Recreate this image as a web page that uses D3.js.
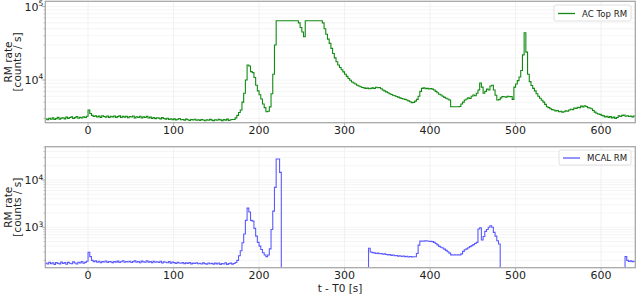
<!DOCTYPE html>
<html>
<head>
<meta charset="utf-8">
<script src="https://cdn.jsdelivr.net/npm/d3@7"></script>
<style>
  body { margin: 0; background: #fff; }
  svg { display: block; font-family: "DejaVu Sans", sans-serif; }
</style>
</head>
<body>
<svg width="637" height="294"></svg>
<script>
const width = 637;
const height = 294;

// time grid: 2 s bins from -50 s
const tStart = -50;
const tStep = 2;

// AC Top RM rate (counts/s), one value per 2 s bin
const acTopRate = [
  2950, 2880, 3010, 2920, 3050, 2900, 2980, 3100, 2930, 3020,
  3060, 2950, 3120, 3000, 3080, 3150, 2990, 3070, 3180, 3010,
  3100, 3040, 3160, 3080, 3200, 3900, 3500, 3300, 3180, 3250,
  3150, 3220, 3100, 3260, 3180, 3120, 3240, 3090, 3200, 3150,
  3230, 3100, 3170, 3250, 3080, 3190, 3120, 3210, 3060, 3180,
  3130, 3240, 3050, 3160, 3090, 3200, 3030, 3150, 3080, 3190,
  3040, 3120, 3000, 3090, 2980, 3060, 3020, 2950, 3070, 2990,
  2930, 3010, 2900, 2970, 2880, 2950, 2860, 2920, 2990, 2870,
  2900, 2840, 2930, 2870, 2810, 2890, 2850, 2920, 2830, 2880,
  2820, 2900, 2850, 2790, 2880, 2830, 2910, 2840, 2800, 2870,
  2830, 2920, 2860, 2800, 2890, 2840, 2930, 2810, 2870, 2900,
  2900, 3050, 3300, 3600, 3900, 5000, 6600, 10000, 16000, 15500,
  13000, 12600, 10800, 8500, 7100, 6300, 5500, 4700, 4200, 3700,
  3750, 4300, 6500, 12000, 30000, 64000, 64000, 64000, 64000, 64000,
  64000, 64000, 64000, 64000, 64000, 64000, 64000, 64000, 60000, 52000,
  45000, 38800, 64000, 64000, 64000, 64000, 64000, 64000, 64000, 64000,
  64000, 64000, 60000, 50000, 42000, 36000, 31500, 27000, 23000, 20000,
  17700, 16000, 14800, 13800, 12900, 12000, 11200, 10500, 9900, 9400,
  9100, 8800, 8500, 8300, 8100, 7900, 7800, 7700, 7750, 7600,
  7700, 7800, 7650, 7950, 7850, 7900, 7600, 7300, 7100, 6900,
  6700, 6500, 6350, 6200, 6100, 5950, 5850, 5700, 5600, 5500,
  5450, 5350, 5200, 5050, 4920, 4950, 5150, 5450, 6000, 7000,
  7700, 7800, 7600, 7700, 7550, 7650, 7500, 7300, 7000, 6700,
  6400, 6250, 6000, 5800, 5650, 5500, 5350, 4330, 4330, 4330,
  4330, 4330, 4350, 4700, 5000, 5350, 5500, 5700, 5600, 6000,
  6250, 6100, 6600, 7300, 9100, 8000, 6600, 7000, 7500, 7300,
  8300, 8500, 7300, 6200, 5350, 5400, 5700, 5950, 5900, 5850,
  6000, 5900, 5950, 5440, 8000, 8800, 9800, 11000, 13500, 22000,
  44000, 24000, 12000, 9500, 8400, 7700, 7100, 6500, 6000, 5640,
  5300, 5000, 4650, 4330, 4200, 4050, 3950, 3900, 3800, 3850,
  3700, 3750, 3650, 3700, 3800, 3750, 3900, 4000, 3950, 4150,
  4100, 4250, 4200, 4400, 4300, 4450, 4350, 4200, 4150, 4050,
  3850, 3650, 3520, 3450, 3400, 3300, 3250, 3150, 3200, 3100,
  3170, 3050, 3120, 3000, 3080, 3250, 3180, 3300, 3340, 3200,
  3260, 3180, 3240, 3150, 3240
];

// MCAL RM rate (counts/s), 0 = no data
const mcalRate = [
  175, 168, 182, 171, 178, 165, 180, 173, 169, 184,
  172, 179, 166, 181, 174, 170, 186, 176, 168, 183,
  177, 189, 174, 181, 192, 296, 240, 200, 188, 195,
  183, 191, 178, 188, 185, 194, 180, 190, 186, 179,
  189, 184, 193, 181, 187, 196, 182, 190, 185, 192,
  180, 188, 195, 183, 190, 178, 193, 186, 182, 197,
  184, 189, 179, 192, 183, 187, 180, 191, 176, 186,
  182, 178, 188, 175, 184, 179, 172, 181, 176, 174,
  179, 171, 177, 173, 180, 169, 175, 172, 178, 170,
  174, 168, 177, 171, 166, 176, 170, 173, 167, 175,
  169, 176, 165, 172, 168, 178, 164, 171, 175, 167,
  172, 180, 200, 250, 320, 470, 720, 1400, 2550, 2100,
  1400, 1350, 950, 650, 480, 400, 340, 290, 260, 240,
  260, 350, 900, 2200, 7000, 27800, 27800, 14500, 0, 0,
  0, 0, 0, 0, 0, 0, 0, 0, 0, 0,
  0, 0, 0, 0, 0, 0, 0, 0, 0, 0,
  0, 0, 0, 0, 0, 0, 0, 0, 0, 0,
  0, 0, 0, 0, 0, 0, 0, 0, 0, 0,
  0, 0, 0, 0, 0, 0, 0, 0, 0, 360,
  300, 292, 288, 280, 284, 276, 279, 270, 274, 266,
  262, 266, 255, 259, 250, 254, 246, 250, 242, 247,
  240, 244, 236, 241, 237, 239, 238, 280, 420, 510,
  515, 510, 520, 512, 508, 505, 498, 480, 455, 425,
  396, 380, 365, 345, 325, 305, 285, 262, 260, 261,
  259, 261, 260, 275, 310, 335, 350, 370, 390, 410,
  430, 455, 480, 920, 980, 540, 640, 820, 900, 1000,
  1080, 1000, 780, 650, 520, 445, 0, 0, 0, 0,
  0, 0, 0, 0, 0, 0, 0, 0, 0, 0,
  0, 0, 0, 0, 0, 0, 0, 0, 0, 0,
  0, 0, 0, 0, 0, 0, 0, 0, 0, 0,
  0, 0, 0, 0, 0, 0, 0, 0, 0, 0,
  0, 0, 0, 0, 0, 0, 0, 0, 0, 0,
  0, 0, 0, 0, 0, 0, 0, 0, 0, 0,
  0, 0, 0, 0, 0, 0, 0, 0, 0, 240,
  200, 190, 195, 188, 192
];

const xTicks = [0, 100, 200, 300, 400, 500, 600];
const xDomain = [-50, 640];

const panels = [
  { name: "AC Top RM", rate: acTopRate, color: "#118a11", top: 1.3, bottom: 122.7,
    domain: [2620, 118000], decades: [4, 5], legend: { x: 554, y: 5, w: 77, h: 16 } },
  { name: "MCAL RM", rate: mcalRate, color: "#5a5aff", top: 146.7, bottom: 267.7,
    domain: [140, 50600], decades: [3, 4], legend: { x: 559, y: 150, w: 72, h: 15 } }
];

const left = 45.3, right = 635.3;
const x = d3.scaleLinear().domain(xDomain).range([left, right]);

const svg = d3.select("svg");

panels.forEach((p, i) => {
  const y = d3.scaleLog().domain(p.domain).range([p.bottom, p.top]);
  const g = svg.append("g");

  // grid (major + minor)
  const minor = [];
  for (let e = 1; e <= 5; e++) for (let m = 1; m < 10; m++) {
    const v = m * Math.pow(10, e);
    if (v >= p.domain[0] && v <= p.domain[1]) minor.push(v);
  }
  g.append("g").selectAll("line").data(minor).join("line")
    .attr("x1", left).attr("x2", right)
    .attr("y1", d => y(d)).attr("y2", d => y(d))
    .attr("stroke", "#f2f2f2").attr("stroke-width", 0.8);
  g.append("g").selectAll("line").data(xTicks).join("line")
    .attr("x1", d => x(d)).attr("x2", d => x(d))
    .attr("y1", p.top).attr("y2", p.bottom)
    .attr("stroke", "#eeeeee").attr("stroke-width", 0.8);

  // data line
  const clipId = "clip" + i;
  svg.append("clipPath").attr("id", clipId).append("rect")
    .attr("x", left).attr("y", p.top)
    .attr("width", right - left).attr("height", p.bottom - p.top);
  const pts = p.rate.map((v, k) => ({ t: tStart + k * tStep, v }));
  pts.push({ t: xDomain[1], v: p.rate[p.rate.length - 1] });
  const line = d3.line()
    .x(d => x(d.t))
    .y(d => d.v > 0 ? y(d.v) : p.bottom + 10)
    .curve(d3.curveStepAfter);
  g.append("path").datum(pts)
    .attr("clip-path", `url(#${clipId})`)
    .attr("fill", "none")
    .attr("stroke", p.color)
    .attr("stroke-width", 1.1)
    .attr("d", line);

  // frame
  g.append("rect")
    .attr("x", left).attr("y", p.top)
    .attr("width", right - left).attr("height", p.bottom - p.top)
    .attr("fill", "none").attr("stroke", "#a8a8a8").attr("stroke-width", 1.3);

  // x ticks
  g.append("g").selectAll("line").data(xTicks).join("line")
    .attr("x1", d => x(d)).attr("x2", d => x(d))
    .attr("y1", p.bottom).attr("y2", p.bottom + 3.5)
    .attr("stroke", "#a8a8a8").attr("stroke-width", 0.8);
  g.append("g").selectAll("text").data(xTicks).join("text")
    .attr("x", d => x(d)).attr("y", p.bottom + 11)
    .attr("text-anchor", "middle")
    .attr("font-size", 11).attr("fill", "#222")
    .text(d => d);

  // y ticks
  g.append("g").selectAll("line").data(minor).join("line")
    .attr("x1", left - 2).attr("x2", left)
    .attr("y1", d => y(d)).attr("y2", d => y(d))
    .attr("stroke", "#a8a8a8").attr("stroke-width", 0.6);
  const majors = p.decades.map(e => Math.pow(10, e));
  g.append("g").selectAll("line").data(majors).join("line")
    .attr("x1", left - 3.5).attr("x2", left)
    .attr("y1", d => y(d)).attr("y2", d => y(d))
    .attr("stroke", "#a8a8a8").attr("stroke-width", 0.8);
  const yl = g.append("g").selectAll("text").data(p.decades).join("text")
    .attr("x", left - 2).attr("y", e => y(Math.pow(10, e)) + 4)
    .attr("text-anchor", "end")
    .attr("font-size", 11).attr("fill", "#222");
  yl.append("tspan").text("10");
  yl.append("tspan").attr("dy", -4.5).attr("font-size", 7.5).text(e => e);

  // y label
  const cy = (p.top + p.bottom) / 2;
  const lab = g.append("text")
    .attr("transform", `translate(11.5,${cy}) rotate(-90)`)
    .attr("text-anchor", "middle")
    .attr("font-size", 10.5).attr("fill", "#222");
  lab.append("tspan").attr("x", 0).attr("dy", 0).text("RM rate");
  lab.append("tspan").attr("x", 0).attr("dy", 9.3).text("[counts / s]");

  // legend
  const L = p.legend;
  g.append("rect")
    .attr("x", L.x).attr("y", L.y).attr("width", L.w).attr("height", L.h)
    .attr("rx", 2).attr("fill", "#fff").attr("fill-opacity", 0.9)
    .attr("stroke", "#d8d8d8").attr("stroke-width", 0.8);
  g.append("line")
    .attr("x1", L.x + 4).attr("x2", L.x + 21)
    .attr("y1", L.y + L.h / 2 + 0.5).attr("y2", L.y + L.h / 2 + 0.5)
    .attr("stroke", p.color).attr("stroke-width", 1.3);
  g.append("text")
    .attr("x", L.x + 28).attr("y", L.y + L.h / 2 + 3.5)
    .attr("font-size", 8.6).attr("fill", "#222")
    .text(p.name);
});

svg.append("text")
  .attr("x", 340).attr("y", 292)
  .attr("text-anchor", "middle")
  .attr("font-size", 10.5).attr("fill", "#222")
  .text("t - T0 [s]");
</script>
</body>
</html>
